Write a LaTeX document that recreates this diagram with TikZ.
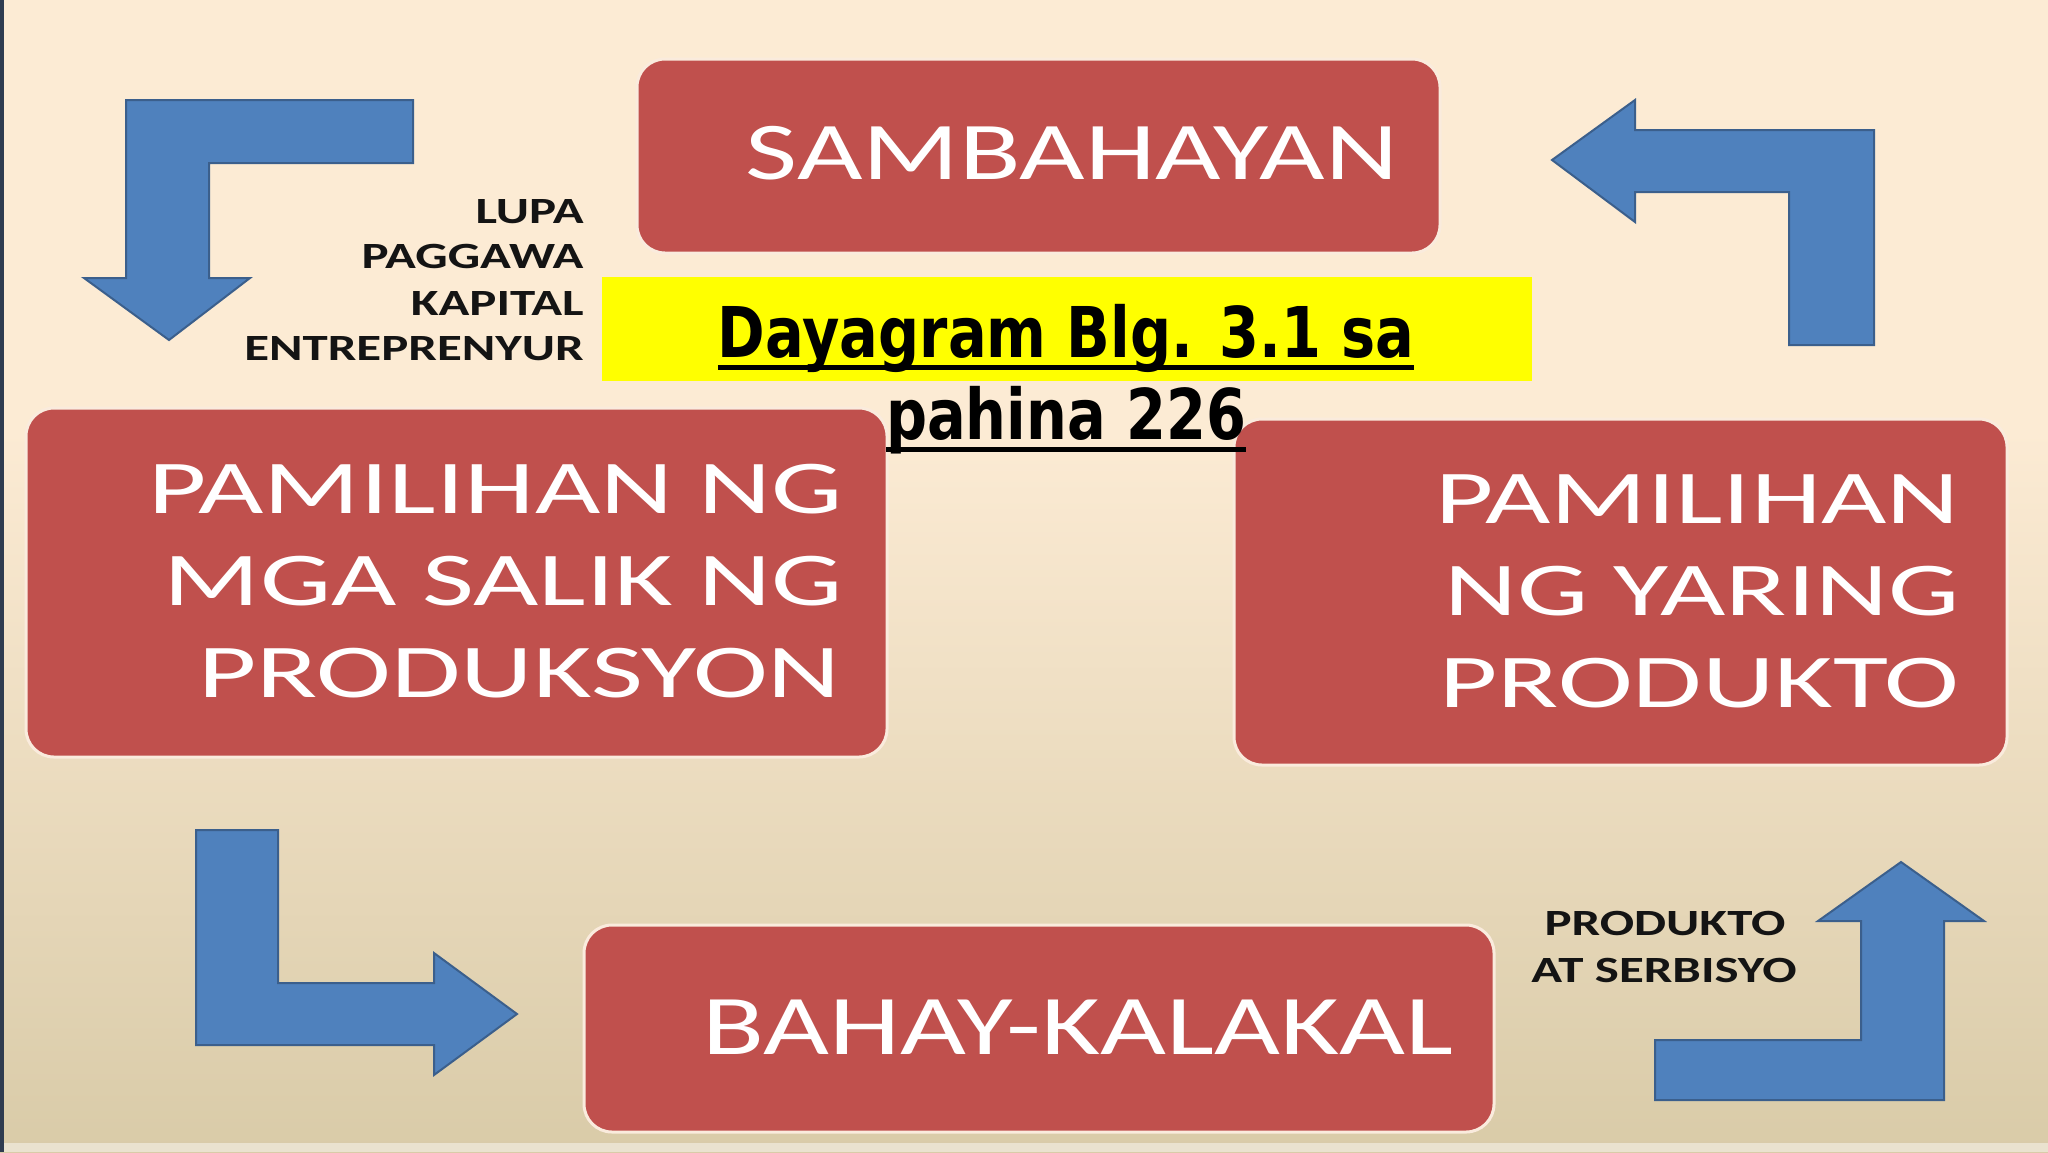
\documentclass[tikz,border=0pt]{standalone}
\usepackage{fontspec}
\setmainfont{Carlito}
\newfontfamily\bxS[FakeStretch=1.38]{Carlito}
\newfontfamily\bxA[FakeStretch=1.34]{Carlito}
\newfontfamily\bxB[FakeStretch=1.485]{Carlito}
\newfontfamily\lblf[FakeStretch=1.375]{Carlito}
\newfontfamily\ttlf[FakeStretch=0.82]{DejaVu Sans}
\newcommand\ulx[1]{\setbox0=\hbox{#1}\rlap{\rule[-6.7pt]{\wd0}{2.5pt}}\box0}
\definecolor{bgtop}{HTML}{FCEBD4}
\definecolor{bgbot}{HTML}{D9CBA8}
\definecolor{boxred}{HTML}{C0504D}
\definecolor{boxedge}{HTML}{FAEBDD}
\definecolor{arrblue}{HTML}{4F81BD}
\definecolor{arredge}{HTML}{3B5F8C}
\definecolor{stripe}{HTML}{2F3C50}
\definecolor{hilite}{HTML}{FFFF00}
\begin{document}
\begin{tikzpicture}[x=0.5pt,y=-0.5pt,
  redbox/.style={draw=boxedge, line width=1.5pt, fill=boxred, rounded corners=14pt, inner sep=0pt},
  boxtxt/.style={text=white, inner sep=0pt},
  sdfont/.style={font=\bxB\fontsize{38}{46}\selectfont},
  blk/.style={fill=arrblue, draw=arredge, line width=1pt, line join=miter},
  lbl/.style={text=black!92, inner sep=0pt, font=\lblf\bfseries\fontsize{18.5}{22}\selectfont},
  ttl/.style={text=black, inner sep=0pt, font=\ttlf\bfseries\fontsize{35}{42}\selectfont}]
\useasboundingbox (0,0) rectangle (2048,1152);
% background
\fill[bgtop] (0,0) rectangle (2048,431);
\shade[top color=bgtop, bottom color=bgbot] (0,430) rectangle (2048,1152);
\fill[bgbot!55!white] (0,1143) rectangle (2048,1152);
\fill[stripe] (0,0) rectangle (4,1152);

% red boxes
\node[redbox, minimum width=401.5pt, minimum height=97pt] (sam) at (1038.5,156) {};
\node[redbox, minimum width=430.5pt, minimum height=174.5pt] (pfac) at (456.5,582.5) {};
\node[redbox, minimum width=386.5pt, minimum height=173pt] (pprod) at (1620.5,592) {};
\node[redbox, minimum width=455pt, minimum height=103.5pt] (bahay) at (1039,1028.5) {};

% box texts
\node[boxtxt, anchor=base, font=\bxS\fontsize{41}{48}\selectfont] (samt) at (1072,179) {SAMBAHAYAN};
\node[boxtxt, anchor=base, font=\bxA\fontsize{42.5}{48}\selectfont] (bahayt) at (1078,1054) {BAHAY-KALAKAL};
\node[boxtxt, sdfont, anchor=base east] (pfac1) at (843,513) {PAMILIHAN NG};
\node[boxtxt, sdfont, anchor=base east] (pfac2) at (843,605) {MGA SALIK NG};
\node[boxtxt, sdfont, anchor=base east] (pfac3) at (841,697) {PRODUKSYON};
\node[boxtxt, sdfont, anchor=base east] (pprod1) at (1960,523) {PAMILIHAN};
\node[boxtxt, sdfont, anchor=base east] (pprod2) at (1960,615) {NG YARING};
\node[boxtxt, sdfont, anchor=base east] (pprod3) at (1960,707) {PRODUKTO};

% block arrows
\draw[blk] (126,100) -- (413,100) -- (413,163) -- (209,163) -- (209,278) -- (250,278)
  -- (169,340) -- (84,278) -- (126,278) -- cycle;
\draw[blk] (1552,160) -- (1635,100) -- (1635,130) -- (1874,130) -- (1874,345) -- (1789,345)
  -- (1789,192) -- (1635,192) -- (1635,222) -- cycle;
\draw[blk] (196,830) -- (278,830) -- (278,983) -- (434,983) -- (434,953) -- (517,1014)
  -- (434,1075) -- (434,1045) -- (196,1045) -- cycle;
\draw[blk] (1655,1040) -- (1861,1040) -- (1861,921) -- (1818,921) -- (1901,862) -- (1984,921)
  -- (1944,921) -- (1944,1100) -- (1655,1100) -- cycle;

% flow labels
\node[lbl, anchor=base east] (lupa) at (584,223) {LUPA};
\node[lbl, anchor=base east] (paggawa) at (584,268) {PAGGAWA};
\node[lbl, anchor=base east] (kapital) at (584,315) {KAPITAL};
\node[lbl, anchor=base east] (entre) at (584,360) {ENTREPRENYUR};
\node[lbl, anchor=base] (prod) at (1665,935) {PRODUKTO};
\node[lbl, anchor=base] (serb) at (1664,982) {AT SERBISYO};

% title
\node[fill=hilite, minimum width=465pt, minimum height=52pt, inner sep=0pt] (hl) at (1067,329) {};
\node[ttl, anchor=base] (ttl1) at (1066,357) {\ulx{Dayagram Blg. 3.1 sa}};
\node[ttl, anchor=base] (ttl2) at (1066,439) {\ulx{pahina 226}};
\end{tikzpicture}
\end{document}
